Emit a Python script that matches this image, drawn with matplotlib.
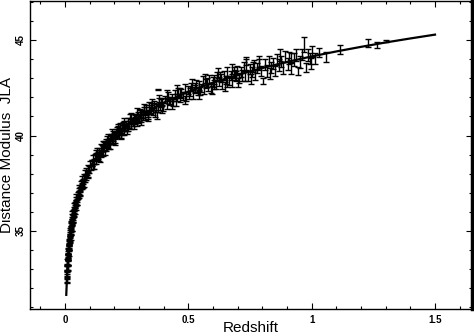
import numpy as np
import matplotlib
matplotlib.use("Agg")
import matplotlib.pyplot as plt
from matplotlib.ticker import MultipleLocator

# Supernova sample: redshift, distance modulus, error
z_low = [0.0070, 0.0075, 0.0080, 0.0085, 0.0090, 0.0093, 0.0097, 0.0100, 0.0103, 0.0107,
         0.0110, 0.0114, 0.0118, 0.0122, 0.0126, 0.0130, 0.0135, 0.0140, 0.0145, 0.0150,
         0.0155, 0.0160, 0.0166, 0.0172, 0.0178, 0.0184, 0.0190, 0.0197, 0.0204, 0.0211,
         0.0218, 0.0226, 0.0234, 0.0242, 0.0250, 0.0259, 0.0268, 0.0277, 0.0287, 0.0297,
         0.0307, 0.0318, 0.0329, 0.0340, 0.0352, 0.0364, 0.0377, 0.0390, 0.0404, 0.0418,
         0.0432, 0.0447, 0.0463, 0.0479, 0.0495, 0.0512, 0.0530, 0.0548, 0.0567, 0.0587,
         0.0607, 0.0628, 0.0650, 0.0672, 0.0695, 0.0719, 0.0744, 0.0770, 0.0797, 0.0824,
         0.0853, 0.0882, 0.0913, 0.0944, 0.0977,
         0.0088, 0.0105, 0.0120, 0.0138, 0.0158, 0.0175, 0.0200, 0.0222, 0.0246, 0.0272,
         0.0302, 0.0335, 0.0370, 0.0411, 0.0455, 0.0505, 0.0558, 0.0617, 0.0685, 0.0760,
         0.0840, 0.0930]
mu_low = [32.50, 32.43, 32.74, 32.62, 33.09, 33.02, 33.03, 33.36, 33.09, 33.39,
          33.35, 33.58, 33.36, 33.70, 33.62, 33.95, 33.73, 33.94, 33.85, 34.18,
          34.09, 34.37, 34.17, 34.40, 34.25, 34.64, 34.56, 34.74, 34.58, 35.01,
          34.82, 34.99, 34.91, 35.26, 35.10, 35.33, 35.17, 35.52, 35.46, 35.74,
          35.54, 35.73, 35.65, 35.99, 35.89, 36.12, 35.92, 36.33, 36.23, 36.39,
          36.27, 36.67, 36.48, 36.67, 36.53, 36.90, 36.82, 37.08, 36.90, 37.17,
          37.02, 37.45, 37.31, 37.50, 37.35, 37.60, 37.44, 37.85, 37.73, 38.04,
          37.85, 38.08, 37.96, 38.29, 38.23,
          33.12, 33.03, 33.82, 33.63, 34.42, 34.14, 34.92, 34.68, 35.40, 35.13,
          35.87, 35.60, 36.31, 36.04, 36.77, 36.51, 37.24, 36.97, 37.70, 37.43,
          38.16, 37.90]
err_low = [0.16, 0.14, 0.18, 0.15, 0.13, 0.17, 0.14, 0.16, 0.12, 0.15,
           0.13, 0.17, 0.14, 0.12, 0.16, 0.15, 0.13, 0.14, 0.17, 0.12,
           0.15, 0.13, 0.16, 0.14, 0.12, 0.15, 0.17, 0.13, 0.14, 0.16,
           0.12, 0.15, 0.13, 0.14, 0.17, 0.12, 0.15, 0.13, 0.16, 0.14,
           0.12, 0.15, 0.17, 0.13, 0.14, 0.16, 0.12, 0.15, 0.13, 0.14,
           0.17, 0.12, 0.15, 0.13, 0.16, 0.14, 0.12, 0.15, 0.17, 0.13,
           0.14, 0.16, 0.12, 0.15, 0.13, 0.14, 0.17, 0.12, 0.15, 0.13,
           0.16, 0.14, 0.12, 0.15, 0.17,
           0.15, 0.14, 0.16, 0.13, 0.15, 0.14, 0.16, 0.13, 0.15, 0.14,
           0.16, 0.13, 0.15, 0.14, 0.16, 0.13, 0.15, 0.14, 0.16, 0.14,
           0.15, 0.13]

z_mid = [0.102, 0.105, 0.108, 0.112, 0.115, 0.118, 0.121, 0.124, 0.127, 0.130,
         0.133, 0.136, 0.139, 0.142, 0.145, 0.148, 0.151, 0.154, 0.157, 0.160,
         0.163, 0.166, 0.169, 0.172, 0.175, 0.178, 0.181, 0.184, 0.187, 0.190,
         0.193, 0.196, 0.199, 0.202, 0.205, 0.208, 0.211, 0.214, 0.217, 0.220,
         0.223, 0.226, 0.229, 0.232, 0.235, 0.238, 0.241, 0.244, 0.247, 0.250,
         0.254, 0.258, 0.262, 0.266, 0.270, 0.274, 0.278, 0.282, 0.286, 0.290,
         0.294, 0.298, 0.302, 0.306, 0.310, 0.315, 0.320, 0.325, 0.330, 0.335,
         0.340, 0.345, 0.350, 0.356, 0.362, 0.368, 0.371, 0.377, 0.380, 0.386,
         0.392, 0.398,
         0.110, 0.125, 0.135, 0.146, 0.155, 0.165, 0.176, 0.186, 0.195, 0.206,
         0.215, 0.225, 0.236, 0.245, 0.256, 0.265, 0.276, 0.285, 0.296, 0.305,
         0.318, 0.328, 0.338, 0.348, 0.359, 0.375, 0.389,
         0.117, 0.128, 0.141, 0.152, 0.161, 0.173, 0.183, 0.192, 0.203, 0.213,
         0.227, 0.239, 0.252, 0.268, 0.281, 0.292, 0.308, 0.322, 0.336, 0.352,
         0.366, 0.383, 0.395]
mu_mid = [38.52, 38.33, 38.55, 38.36, 38.82, 38.65, 38.86, 38.67, 39.09, 38.85,
          39.01, 38.84, 39.20, 39.11, 39.38, 39.10, 39.34, 39.07, 39.50, 39.34,
          39.54, 39.32, 39.79, 39.50, 39.65, 39.47, 39.87, 39.72, 39.91, 39.70,
          40.09, 39.85, 40.01, 39.76, 40.16, 40.05, 40.29, 40.02, 40.23, 40.02,
          40.47, 40.21, 40.40, 40.17, 40.39, 40.19, 40.60, 40.38, 40.58, 40.40,
          40.79, 40.58, 40.77, 40.50, 40.78, 40.67, 40.98, 40.78, 40.96, 40.68,
          41.08, 40.95, 41.21, 40.89, 41.14, 41.02, 41.31, 40.99, 41.27, 41.15,
          41.54, 41.30, 41.49, 41.25, 41.52, 41.42, 41.07, 42.43, 41.77, 41.50,
          41.76, 41.50,
          38.57, 38.92, 38.90, 39.03, 39.35, 39.68, 39.51, 39.86, 39.73, 40.05,
          40.35, 40.05, 40.52, 40.45, 40.41, 40.92, 40.67, 40.89, 40.80, 41.13,
          41.10, 41.41, 41.07, 41.39, 41.64, 41.45, 41.70,
          38.38, 39.21, 38.79, 39.58, 39.10, 39.94, 39.44, 40.18, 39.66, 40.42,
          39.97, 40.74, 40.25, 41.03, 40.50, 41.26, 40.75, 41.48, 40.94, 41.71,
          41.17, 41.94, 41.39]
err_mid = [0.14, 0.12, 0.16, 0.13, 0.15, 0.12, 0.17, 0.14, 0.13, 0.15,
           0.12, 0.16, 0.14, 0.13, 0.17, 0.12, 0.15, 0.14, 0.16, 0.13,
           0.15, 0.14, 0.17, 0.12, 0.16, 0.15, 0.13, 0.14, 0.17, 0.15,
           0.14, 0.16, 0.13, 0.15, 0.17, 0.14, 0.16, 0.15, 0.18, 0.14,
           0.16, 0.15, 0.17, 0.14, 0.16, 0.18, 0.15, 0.17, 0.16, 0.18,
           0.15, 0.17, 0.16, 0.18, 0.15, 0.19, 0.16, 0.17, 0.18, 0.16,
           0.17, 0.19, 0.16, 0.18, 0.17, 0.19, 0.17, 0.18, 0.20, 0.17,
           0.19, 0.18, 0.20, 0.18, 0.19, 0.21, 0.18, 0.03, 0.20, 0.19,
           0.21, 0.20,
           0.14, 0.15, 0.14, 0.13, 0.16, 0.15, 0.14, 0.16, 0.15, 0.17,
           0.15, 0.16, 0.17, 0.15, 0.17, 0.18, 0.16, 0.18, 0.17, 0.19,
           0.18, 0.19, 0.18, 0.20, 0.19, 0.20, 0.21,
           0.15, 0.14, 0.16, 0.15, 0.14, 0.16, 0.15, 0.17, 0.15, 0.16,
           0.17, 0.16, 0.18, 0.17, 0.18, 0.17, 0.19, 0.18, 0.19, 0.20,
           0.19, 0.20, 0.21]

z_high = [0.405, 0.412, 0.418, 0.425, 0.432, 0.438, 0.445, 0.452, 0.458, 0.465,
          0.472, 0.478, 0.485, 0.492, 0.498, 0.505, 0.512, 0.518, 0.525, 0.532,
          0.538, 0.545, 0.552, 0.558, 0.565, 0.572, 0.578, 0.585, 0.592, 0.598,
          0.605, 0.612, 0.618, 0.625, 0.632, 0.638, 0.645, 0.652, 0.658, 0.665,
          0.672, 0.678, 0.685, 0.692, 0.698, 0.705, 0.712, 0.718, 0.725, 0.735,
          0.742, 0.750, 0.758, 0.765, 0.772, 0.780, 0.788, 0.795, 0.802,
          0.422, 0.448, 0.468, 0.502, 0.528, 0.548, 0.575, 0.602, 0.628, 0.655,
          0.688, 0.728, 0.762,
          0.415, 0.435, 0.455, 0.488, 0.515, 0.542, 0.568, 0.595, 0.622, 0.648,
          0.675, 0.702, 0.732, 0.755, 0.785, 0.832, 0.872, 0.915, 0.998,
          0.810, 0.818, 0.826, 0.835, 0.843, 0.852, 0.860, 0.868, 0.877, 0.885,
          0.893, 0.902, 0.910, 0.918, 0.927, 0.935, 0.943, 0.952, 0.960, 0.968,
          0.977, 0.985, 0.993, 1.003, 1.012, 1.030, 1.060, 1.116, 1.228, 1.264,
          1.300]
mu_high = [41.87, 41.61, 42.08, 41.81, 41.99, 41.73, 42.16, 42.00, 42.28, 41.96,
           42.19, 42.07, 42.49, 42.06, 42.37, 42.28, 42.54, 42.14, 42.44, 42.71,
           42.35, 42.63, 42.48, 42.88, 42.41, 42.71, 42.56, 42.92, 42.46, 42.80,
           42.94, 42.66, 43.11, 42.82, 43.00, 42.68, 43.14, 42.90, 43.34, 42.90,
           43.14, 42.79, 43.32, 43.12, 43.42, 43.01, 43.31, 43.14, 43.62, 43.90,
           43.11, 43.49, 43.33, 43.69, 43.17, 43.52, 43.71, 43.39, 42.84,
           41.83, 41.76, 42.26, 42.14, 42.51, 42.32, 42.78, 42.68, 43.09, 42.80,
           43.17, 43.13, 43.58,
           42.16, 41.58, 42.41, 41.87, 42.75, 42.12, 42.99, 42.38, 43.26, 42.57,
           43.46, 42.78, 43.71, 42.95, 43.88, 43.23, 44.21, 44.08, 43.78,
           43.71, 43.38, 43.91, 43.56, 43.78, 43.37, 43.97, 43.70, 43.86, 43.55,
           44.15, 43.75, 44.05, 43.49, 43.97, 44.22, 43.36, 43.84, 44.22, 44.76,
           43.57, 44.21, 44.04, 44.40, 44.03, 44.33, 44.11, 44.51, 44.85, 44.75,
           44.96]
err_high = [0.18, 0.20, 0.19, 0.21, 0.18, 0.20, 0.22, 0.19, 0.21, 0.20,
            0.22, 0.19, 0.21, 0.23, 0.20, 0.22, 0.21, 0.23, 0.20, 0.22,
            0.21, 0.24, 0.21, 0.23, 0.22, 0.24, 0.21, 0.23, 0.22, 0.25,
            0.22, 0.24, 0.23, 0.25, 0.22, 0.24, 0.26, 0.23, 0.25, 0.24,
            0.26, 0.23, 0.25, 0.27, 0.24, 0.26, 0.25, 0.27, 0.25, 0.22,
            0.28, 0.26, 0.27, 0.25, 0.28, 0.26, 0.29, 0.27, 0.15,
            0.20, 0.21, 0.22, 0.21, 0.23, 0.22, 0.24, 0.23, 0.25, 0.24,
            0.26, 0.27, 0.28,
            0.20, 0.21, 0.22, 0.21, 0.23, 0.22, 0.24, 0.23, 0.25, 0.24,
            0.26, 0.25, 0.27, 0.26, 0.28, 0.29, 0.30, 0.24, 0.30,
            0.28, 0.30, 0.27, 0.31, 0.29, 0.28, 0.30, 0.32, 0.28, 0.31,
            0.29, 0.32, 0.30, 0.28, 0.33, 0.30, 0.20, 0.31, 0.29, 0.40,
            0.22, 0.32, 0.30, 0.31, 0.29, 0.23, 0.25, 0.22, 0.20, 0.16,
            0.04]

# Best-fit model curve
z_model = [0.005, 0.01, 0.015, 0.02, 0.03, 0.04, 0.05, 0.07, 0.1, 0.15, 0.2, 0.25,
           0.3, 0.4, 0.5, 0.6, 0.7, 0.8, 0.9, 1.0, 1.1, 1.2, 1.3, 1.4, 1.5]
mu_model = [31.66, 33.17, 34.07, 34.70, 35.60, 36.24, 36.74, 37.50, 38.32, 39.25, 39.97, 40.53,
            40.99, 41.72, 42.29, 42.77, 43.17, 43.53, 43.85, 44.14, 44.40, 44.64, 44.87, 45.08, 45.28]

z_all = z_low + z_mid + z_high
mu_all = mu_low + mu_mid + mu_high
err_all = err_low + err_mid + err_high

plt.rcParams['font.family'] = ['Liberation Sans', 'DejaVu Sans']

fig = plt.figure(figsize=(4.74, 3.36), dpi=100)
ax = fig.add_axes([30 / 474, 1 - 309 / 336, 442 / 474, 308 / 336])

ax.errorbar(z_all, mu_all, yerr=err_all, fmt='none', ecolor='black',
            elinewidth=1.0, capsize=2.2, capthick=1.0)
ax.plot(z_model, mu_model, color='black', lw=1.6)

ax.set_xlim(-0.142, 1.65)
ax.set_ylim(30.92, 47.04)

ax.xaxis.set_minor_locator(MultipleLocator(0.1))
ax.yaxis.set_minor_locator(MultipleLocator(1))
ax.set_xticks([0, 0.5, 1, 1.5])
ax.set_xticklabels(['0', '0.5', '1', '1.5'])
ax.set_yticks([35, 40, 45])
ax.set_yticklabels(['35', '40', '45'], rotation=90, va='center')

ax.tick_params(which='both', direction='in', top=True, right=True, width=0.8)
ax.tick_params(which='major', length=4)
ax.tick_params(which='minor', length=2.5)
ax.tick_params(axis='x', labelsize=7, pad=4.5)
ax.tick_params(axis='y', labelsize=7, pad=3)
for lab in ax.get_xticklabels() + ax.get_yticklabels():
    lab.set_fontweight('bold')

for side in ['left', 'bottom', 'top']:
    ax.spines[side].set_linewidth(1.0)
ax.spines['right'].set_linewidth(2.5)

ax.set_xlabel('Redshift', fontsize=11, labelpad=-3)
ax.set_ylabel('Distance Modulus  JLA', fontsize=11, labelpad=1)

fig.savefig('out.png', dpi=100)
